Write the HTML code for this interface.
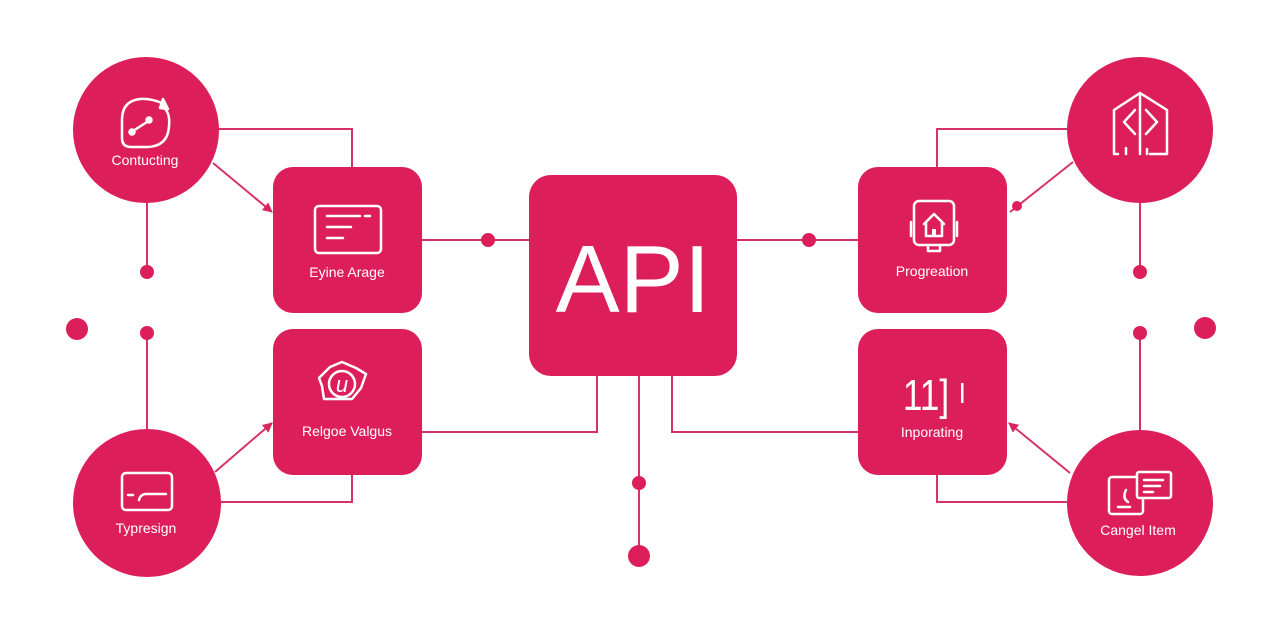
<!DOCTYPE html>
<html><head><meta charset="utf-8"><style>
html,body{margin:0;padding:0;background:#fff;}
svg{display:block;}
text{font-family:"Liberation Sans",sans-serif;fill:#fff;}
</style></head><body>
<svg width="1280" height="640" viewBox="0 0 1280 640" xmlns="http://www.w3.org/2000/svg">
<defs>
<marker id="ah" markerWidth="10" markerHeight="10" refX="9" refY="5" orient="auto" markerUnits="userSpaceOnUse">
<path d="M0,0 L10,5 L0,10 z" fill="#d8265f"/>
</marker>
</defs>
<rect width="1280" height="640" fill="#fff"/>
<g stroke="#d8306a" stroke-width="2" fill="none">
<polyline points="218,129 352,129 352,167"/>
<line x1="147" y1="203" x2="147" y2="272"/>
<line x1="213" y1="163" x2="272" y2="212" marker-end="url(#ah)"/>
<line x1="147" y1="333" x2="147" y2="430"/>
<polyline points="220,502 352,502 352,475"/>
<line x1="215" y1="472" x2="272" y2="423" marker-end="url(#ah)"/>
<line x1="422" y1="240" x2="529" y2="240"/>
<line x1="737" y1="240" x2="858" y2="240"/>
<polyline points="422,432 597,432 597,376"/>
<polyline points="858,432 672,432 672,376"/>
<line x1="639" y1="376" x2="639" y2="556"/>
<polyline points="1067,129 937,129 937,167"/>
<line x1="1140" y1="203" x2="1140" y2="272"/>
<line x1="1073" y1="162" x2="1010" y2="212"/>
<line x1="1140" y1="333" x2="1140" y2="430"/>
<polyline points="1067,502 937,502 937,475"/>
<line x1="1070" y1="473" x2="1009" y2="423" marker-end="url(#ah)"/>
</g>
<g fill="#dc1f5a">
<circle cx="1017" cy="206" r="5"/>
<circle cx="147" cy="272" r="7"/>
<circle cx="77" cy="329" r="11"/>
<circle cx="147" cy="333" r="7"/>
<circle cx="488" cy="240" r="7"/>
<circle cx="809" cy="240" r="7"/>
<circle cx="639" cy="483" r="7"/>
<circle cx="639" cy="556" r="11"/>
<circle cx="1140" cy="272" r="7"/>
<circle cx="1140" cy="333" r="7"/>
<circle cx="1205" cy="328" r="11"/>
<circle cx="146" cy="130" r="73"/>
<circle cx="147" cy="503" r="74"/>
<circle cx="1140" cy="130" r="73"/>
<circle cx="1140" cy="503" r="73"/>
<rect x="273" y="167" width="149" height="146" rx="20"/>
<rect x="273" y="329" width="149" height="146" rx="20"/>
<rect x="858" y="167" width="149" height="146" rx="20"/>
<rect x="858" y="329" width="149" height="146" rx="20"/>
<rect x="529" y="175" width="208" height="201" rx="22"/>
</g>
<text x="633" y="312" font-size="96" text-anchor="middle">API</text>
<g stroke="#fff" stroke-width="2.5" fill="none" stroke-linecap="round" stroke-linejoin="round">
<!-- contacting blob -->
<path d="M162,103 Q150,98 140,99 Q122,101 122,120 L122,138 Q122,147 131,147 L148,147 Q168,146 169,126 Q170,115 166,110"/>
<path d="M163,99 L160,108 L168,109 Z" fill="#fff"/>
<line x1="133" y1="131" x2="147" y2="122"/>
<circle cx="132" cy="132" r="2.5" fill="#fff"/>
<circle cx="149" cy="120" r="2.5" fill="#fff"/>
<!-- eyine -->
<rect x="315" y="206" width="66" height="47" rx="4"/>
<line x1="327" y1="216" x2="360" y2="216"/>
<line x1="365" y1="216" x2="370" y2="216"/>
<line x1="327" y1="227" x2="351" y2="227"/>
<line x1="327" y1="238" x2="343" y2="238"/>
<!-- relgoe badge -->
<path d="M330,367 L342,362 L356,368 L366,374 L361,388 L352,399 L324,399 L322,386 L319,378 Z"/>
<circle cx="342" cy="384" r="13"/>
<!-- right top house -->
<path d="M1118,154 L1114,154 L1114,110 L1140,93 L1167,110 L1167,154 L1150,154"/>
<line x1="1140" y1="93" x2="1140" y2="154"/>
<polyline points="1135,110 1124,122 1135,134"/>
<polyline points="1146,110 1157,122 1146,134"/>
<line x1="1126" y1="148" x2="1126" y2="154"/>
<line x1="1147" y1="149" x2="1147" y2="154"/>
<!-- progreation -->
<rect x="914" y="201" width="40" height="44" rx="5"/>
<path d="M911,222 L911,236 M957,222 L957,236"/>
<path d="M928,245 L928,251 L940,251 L940,245"/>
<path d="M924,224 L934,214 L944,224 M926,223 L926,236 L942,236 L942,223"/>
<!-- typresign -->
<rect x="122" y="473" width="50" height="37" rx="4"/>
<line x1="128" y1="495" x2="133" y2="495"/>
<path d="M139,500 Q140,495 145,494 L166,494"/>
<!-- cangel -->
<rect x="1109" y="477" width="34" height="37" rx="3"/>
<rect x="1137" y="472" width="34" height="26" rx="2" fill="#dc1f5a"/>
<line x1="1144" y1="480" x2="1163" y2="480"/>
<line x1="1144" y1="486" x2="1160" y2="486"/>
<line x1="1144" y1="492" x2="1153" y2="492"/>
<path d="M1126,490 Q1122,498 1128,502 M1118,507 L1130,507"/>
</g>
<text x="342" y="392" font-size="22" font-style="italic" font-family="Liberation Serif" text-anchor="middle">u</text>
<rect x="932" y="229" width="4" height="7" fill="#fff"/>
<g font-size="14" text-anchor="middle">
<text x="145" y="165">Contucting</text>
<text x="347" y="277">Eyine Arage</text>
<text x="347" y="436">Relgoe Valgus</text>
<text x="146" y="533">Typresign</text>
<text x="932" y="276">Progreation</text>
<text x="932" y="437">Inporating</text>
<text x="1138" y="535">Cangel Item</text>
</g>
<text transform="translate(926,410) scale(0.8,1)" font-size="44" text-anchor="middle">11]</text>
<rect x="961" y="383" width="2.5" height="20" fill="#fff"/>
</svg>
</body></html>
